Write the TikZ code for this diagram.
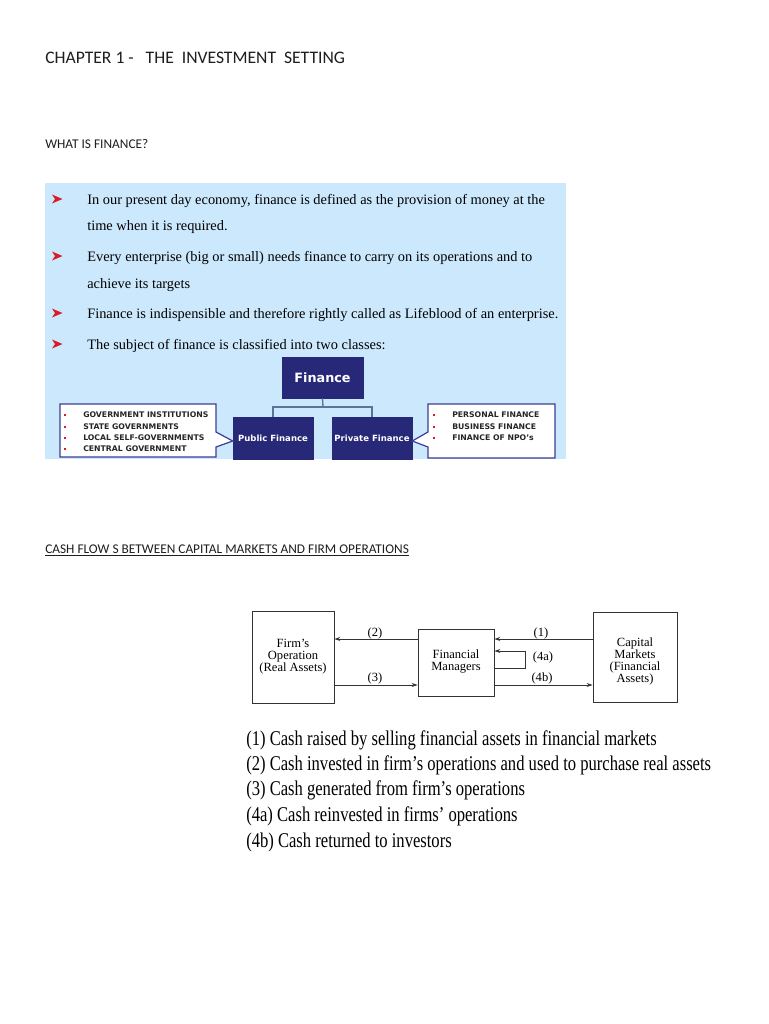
\documentclass[tikz,border=0pt]{standalone}
\usepackage{fontspec}
\setmainfont{Liberation Serif}
\newfontfamily\calfont{Carlito}
\newfontfamily\vfont{DejaVu Sans}
\usetikzlibrary{arrows.meta}
\definecolor{pale}{RGB}{204,232,252}
\definecolor{navy}{RGB}{40,40,120}
\definecolor{calloutline}{RGB}{60,60,150}
\definecolor{bred}{RGB}{215,30,40}
\definecolor{conn}{RGB}{90,115,150}
\definecolor{ink}{RGB}{30,30,30}
\tikzset{
  heading/.style={anchor=base west, inner sep=0pt, text=ink, font=\calfont\fontsize{10pt}{12pt}\selectfont},
  bullettext/.style={anchor=base west, inner sep=0pt, text=black, font=\fontsize{10.8pt}{13pt}\selectfont},
  navybox/.style={fill=navy, draw=navy, inner sep=0pt, text=white, font=\vfont\bfseries},
  callout/.style={fill=white, draw=calloutline, line width=0.9pt, line join=miter},
  ctext/.style={anchor=base west, inner sep=0pt, text=black!85, font=\vfont\bfseries\fontsize{5.8pt}{7pt}\selectfont},
  rdot/.style={fill=bred, inner sep=0pt, minimum size=1.6pt, shape=rectangle},
  fbox/.style={draw=black!80, line width=0.6pt, inner sep=0pt},
  lbl/.style={inner sep=0pt, font=\fontsize{9.4pt}{9pt}\selectfont},
  arr/.style={draw=black!80, line width=0.6pt, -{Stealth[length=4.5pt,width=3pt]}},
  captext/.style={anchor=west, inner sep=0pt, font=\fontsize{15.75pt}{18pt}\selectfont},
  arrowhead/.style={fill=bred, draw=none}
}
\begin{document}
\begin{tikzpicture}[x=0.75pt,y=-0.75pt]
\useasboundingbox[fill=white] (0,0) rectangle (768,1024);

% headings
\node[heading, font=\calfont\fontsize{13.2pt}{16pt}\selectfont] (title) at (45,64) {CHAPTER 1 -\ \ \ THE\ \ INVESTMENT\ \ SETTING};
\node[heading] (what) at (45,148) {WHAT IS FINANCE?};

% blue panel
\fill[pale] (45,183) rectangle (566,459);

% bullet arrowheads
\foreach \yy/\nm in {199/a1,256/a2,313/a3,344/a4}{
  \fill[arrowhead] (52,\yy-4.5) -- (62.5,\yy) -- (52,\yy+4.5) -- (55,\yy) -- cycle;
  \coordinate (\nm) at (57,\yy);
}
\node[bullettext] (b1) at (87,204) {In our present day economy, finance is defined as the provision of money at the};
\node[bullettext] (b1b) at (87,230) {time when it is required.};
\node[bullettext] (b2) at (87,261) {Every enterprise (big or small) needs finance to carry on its operations and to};
\node[bullettext] (b2b) at (87,288) {achieve its targets};
\node[bullettext] (b3) at (87,318) {Finance is indispensible and therefore rightly called as Lifeblood of an enterprise.};
\node[bullettext] (b4) at (87,349) {The subject of finance is classified into two classes:};

% org chart
\node[navybox, minimum width=60.75pt, minimum height=30.75pt, font=\vfont\bfseries\fontsize{9.6pt}{11pt}\selectfont] (fin) at (322.5,377.5) {Finance};
\node[navybox, minimum width=60pt, minimum height=31.5pt, font=\vfont\bfseries\fontsize{6.4pt}{8pt}\selectfont] (pub) at (273,438) {Public Finance};
\node[navybox, minimum width=60pt, minimum height=31.5pt, font=\vfont\bfseries\fontsize{6.4pt}{8pt}\selectfont] (pri) at (372,438) {Private Finance};
\coordinate (jn) at (323,407);
\draw[conn, line width=1pt] (fin.south) -- (jn);
\draw[conn, line width=1pt] (pub.north) |- (jn) -| (pri.north);

% callouts
\draw[callout] (60,404) -- (216,404) -- (216,432) -- (pub.west |- 0,441) -- (216,447) -- (216,457) -- (60,457) -- cycle;
\draw[callout] (428,404) -- (555,404) -- (555,458) -- (428,458) -- (428,447) -- (pri.east |- 0,441) -- (428,432) -- cycle;
\foreach \yy/\tx/\nm in {415/GOVERNMENT INSTITUTIONS/l1,427/STATE GOVERNMENTS/l2,438/LOCAL SELF-GOVERNMENTS/l3,449/CENTRAL GOVERNMENT/l4}{
  \node[rdot] (d\nm) at (65,\yy) {};
  \node[ctext] (\nm) at (83,\yy+2.7) {\tx};
}
\foreach \yy/\tx/\nm in {415/PERSONAL FINANCE/r1,427/BUSINESS FINANCE/r2,438/FINANCE OF NPO’s/r3}{
  \node[rdot] (d\nm) at (434,\yy) {};
  \node[ctext] (\nm) at (452,\yy+2.7) {\tx};
}

% second heading
\node[heading] (cash) at (45,553) {\underline{CASH FLOW S BETWEEN CAPITAL MARKETS AND FIRM OPERATIONS}};

% flow diagram
\node[fbox, minimum width=61.5pt, minimum height=69pt] (firm) at (293,657) {};
\node[lbl, align=center] (firmt) at (293,657) {Firm's\\Operation\\(Real Assets)};
\node[fbox, minimum width=57pt, minimum height=50.25pt] (fm) at (456,662.5) {};
\node[lbl, align=center] (fmt) at (456,661.5) {Financial\\Managers};
\node[fbox, minimum width=63pt, minimum height=67.5pt] (cm) at (635,657) {};
\node[lbl, align=center] (cmt) at (635,661) {Capital\\Markets\\(Financial\\Assets)};

\coordinate (ra) at (0,639);
\coordinate (rb) at (0,685);
\coordinate (rl1) at (0,668);
\coordinate (rl2) at (0,651);
\coordinate (lx) at (525,0);
\draw[arr] (fm.west |- ra) -- (firm.east |- ra);
\draw[arr] (firm.east |- rb) -- (fm.west |- rb);
\draw[arr] (cm.west |- ra) -- (fm.east |- ra);
\draw[arr] (fm.east |- rb) -- (cm.west |- rb);
\draw[arr] (fm.east |- rl1) -- (lx |- rl1) -- (lx |- rl2) -- (fm.east |- rl2);

\node[lbl] (l2) at (375,633) {(2)};
\node[lbl] (l3) at (375,678) {(3)};
\node[lbl] (l1) at (541,633) {(1)};
\node[lbl] (l4b) at (542,678) {(4b)};
\node[lbl] (l4a) at (543,657) {(4a)};

% captions
\node[captext] (c1) at (246,740) {\scalebox{0.79}[1]{(1) Cash raised by selling financial assets in financial markets}};
\node[captext] (c2) at (246,765) {\scalebox{0.79}[1]{(2) Cash invested in firm’s operations and used to purchase real assets}};
\node[captext] (c3) at (246,790) {\scalebox{0.79}[1]{(3) Cash generated from firm’s operations}};
\node[captext] (c4) at (246,816) {\scalebox{0.79}[1]{(4a) Cash reinvested in firms’ operations}};
\node[captext] (c5) at (246,842) {\scalebox{0.79}[1]{(4b) Cash returned to investors}};
\end{tikzpicture}
\end{document}
